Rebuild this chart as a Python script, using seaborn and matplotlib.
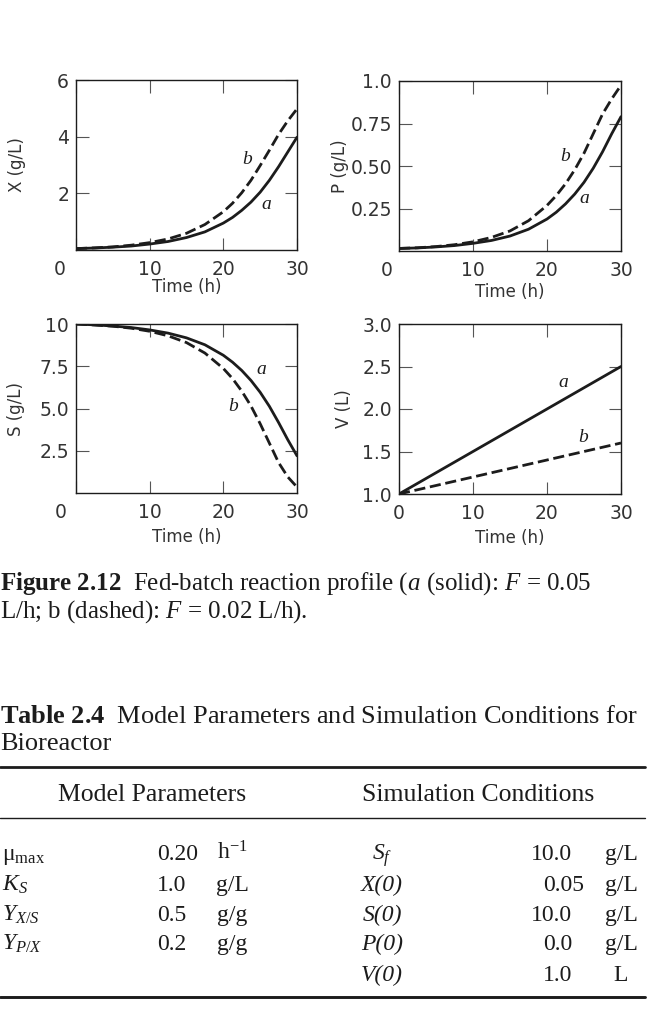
import matplotlib
matplotlib.use("Agg")
import matplotlib.pyplot as plt
import matplotlib.transforms as mtransforms
from matplotlib.lines import Line2D
import pandas as pd
import seaborn as sns

# values (time in h)
time_h = [0, 2.5, 5, 7.5, 10, 12.5, 15, 17.5, 20, 21.25, 22.5, 23.75, 25, 26.25, 27.5, 28.75, 30]

X_a = [0.05, 0.07, 0.10, 0.14, 0.21, 0.30, 0.44, 0.64, 0.95, 1.15, 1.40, 1.69, 2.04, 2.46, 2.94, 3.46, 3.98]
X_b = [0.05, 0.075, 0.11, 0.17, 0.26, 0.39, 0.59, 0.90, 1.35, 1.65, 2.02, 2.46, 2.98, 3.52, 4.08, 4.56, 4.98]

P_a = [0.015, 0.018, 0.024, 0.032, 0.045, 0.062, 0.088, 0.128, 0.188, 0.228, 0.277, 0.335, 0.404, 0.487, 0.583, 0.690, 0.790]
P_b = [0.015, 0.019, 0.026, 0.037, 0.054, 0.080, 0.118, 0.178, 0.268, 0.326, 0.395, 0.478, 0.575, 0.690, 0.805, 0.895, 0.975]

S_a = [10.0, 9.95, 9.88, 9.79, 9.65, 9.46, 9.18, 8.77, 8.15, 7.74, 7.25, 6.66, 5.96, 5.13, 4.17, 3.15, 2.2]
S_b = [10.0, 9.94, 9.87, 9.75, 9.57, 9.30, 8.90, 8.28, 7.37, 6.77, 6.03, 5.15, 4.10, 2.95, 1.80, 0.95, 0.35]

V_time_h = [0, 10, 20, 30]
V_a = [1.0, 1.5, 2.0, 2.5]
V_b = [1.0, 1.2, 1.4, 1.6]

x_ticks = [0, 10, 20, 30]
x_ticklabels = ["0", "10", "20", "30"]

X_ticks, X_ticklabels = [2, 4, 6], ["2", "4", "6"]
P_ticks, P_ticklabels = [0.25, 0.5, 0.75, 1.0], ["0.25", "0.50", "0.75", "1.0"]
S_ticks, S_ticklabels = [2.5, 5, 7.5, 10], ["2.5", "5.0", "7.5", "10"]
V_ticks, V_ticklabels = [1.0, 1.5, 2.0, 2.5, 3.0], ["1.0", "1.5", "2.0", "2.5", "3.0"]

caption_1 = r"$\mathbf{Figure\ 2.12}$  Fed-batch reaction profile ($a$ (solid): $F$ = 0.05"
caption_2 = r"L/h; b (dashed): $F$ = 0.02 L/h)."
table_title_1 = r"$\mathbf{Table\ 2.4}$  Model Parameters and Simulation Conditions for"
table_title_2 = "Bioreactor"
table_headers = ["Model Parameters", "Simulation Conditions"]

param_symbols = [r"$\mathrm{\mu}_{\mathrm{max}}$", r"$K_S$", r"$Y_{X/S}$", r"$Y_{P/X}$"]
param_values = ["0.20", "1.0", "0.5", "0.2"]
param_units = [r"h$^{-1}$", "g/L", "g/g", "g/g"]

cond_symbols = [r"$S_f$", "X(0)", "S(0)", "P(0)", "V(0)"]
cond_values = ["10.0", "0.05", "10.0", "0.0", "1.0"]
cond_units = ["g/L", "g/L", "g/L", "g/L", "L"]

W, H = 662, 1010
INK = "#1c1c1c"
GREY = "#333333"
SERIF = "Liberation Serif"


def fx(px):
    return px / W


def fy(py):
    return 1 - py / H


def long_frame(t, a, b):
    return pd.DataFrame({
        "time": list(t) * 2,
        "value": list(a) + list(b),
        "case": ["a"] * len(a) + ["b"] * len(b),
    })


sns.set_style("ticks")
plt.rcParams["font.family"] = ["DejaVu Sans"]
plt.rcParams["mathtext.fontset"] = "custom"
plt.rcParams["mathtext.rm"] = SERIF
plt.rcParams["mathtext.it"] = SERIF + ":italic"
plt.rcParams["mathtext.bf"] = SERIF + ":bold"

fig = plt.figure(figsize=(W / 100, H / 100), dpi=100)

panels = [
    dict(box=(76, 80, 297, 250), df=long_frame(time_h, X_a, X_b), ylim=(0, 6),
         yticks=X_ticks, yticklabels=X_ticklabels, ylabel="X (g/L)",
         ylabel_x=17, xlabel_y=287, zero_shift=-16,
         tags=[("b", 23.2, 3.2), ("a", 25.9, 1.6)]),
    dict(box=(399, 81, 621, 251), df=long_frame(time_h, P_a, P_b), ylim=(0, 1),
         yticks=P_ticks, yticklabels=P_ticklabels, ylabel="P (g/L)",
         ylabel_x=340, xlabel_y=292, zero_shift=-12,
         tags=[("b", 22.4, 0.555), ("a", 25.1, 0.31)]),
    dict(box=(76, 324, 297, 493), df=long_frame(time_h, S_a, S_b), ylim=(0, 10),
         yticks=S_ticks, yticklabels=S_ticklabels, ylabel="S (g/L)",
         ylabel_x=16, xlabel_y=537, zero_shift=-15,
         tags=[("a", 25.2, 7.3), ("b", 21.4, 5.1)]),
    dict(box=(399, 324, 621, 494), df=long_frame(V_time_h, V_a, V_b), ylim=(1, 3),
         yticks=V_ticks, yticklabels=V_ticklabels, ylabel="V (L)",
         ylabel_x=344, xlabel_y=538, zero_shift=0,
         tags=[("a", 22.2, 2.31), ("b", 24.9, 1.67)]),
]

for p in panels:
    left, top, right, bottom = p["box"]
    ax = fig.add_axes([fx(left), fy(bottom), (right - left) / W, (bottom - top) / H])
    sns.lineplot(data=p["df"], x="time", y="value", hue="case", style="case",
                 palette={"a": INK, "b": INK}, dashes={"a": "", "b": (4, 1.7)},
                 linewidth=2.0, legend=False, errorbar=None, ax=ax)
    ax.set_xlim(0, 30)
    ax.set_ylim(*p["ylim"])
    ax.set_xticks(x_ticks)
    ax.set_xticklabels(x_ticklabels)
    ax.set_yticks(p["yticks"])
    ax.set_yticklabels(p["yticklabels"])
    ax.tick_params(direction="in", length=9, width=0.8, color="#555555",
                   top=True, right=True, labelsize=13.5, labelcolor=GREY, pad=5)
    ax.tick_params(axis="x", pad=7)
    for sp in ax.spines.values():
        sp.set_linewidth(1.0)
        sp.set_color(INK)

    # the origin "0" sits left of the corner in three of the panels
    if p["zero_shift"]:
        lab = ax.get_xticklabels()[0]
        lab.set_transform(lab.get_transform() + mtransforms.ScaledTranslation(
            p["zero_shift"] / 100, 0, fig.dpi_scale_trans))

    ax.set_xlabel("Time (h)", fontsize=12, color=GREY)
    ax.xaxis.set_label_coords(0.5, -(p["xlabel_y"] - bottom) / (bottom - top))
    ax.xaxis.label.set_va("center")
    ax.set_ylabel(p["ylabel"], fontsize=12, color=GREY)
    ax.yaxis.set_label_coords((p["ylabel_x"] - left) / (right - left), 0.5)
    ax.yaxis.label.set_va("center")

    for tag, tx, ty in p["tags"]:
        ax.text(tx, ty, tag, family=SERIF, style="italic", fontsize=14,
                color=INK, ha="center", va="center")

# caption
cap = dict(family=SERIF, fontsize=18, color=INK, va="baseline")
fig.text(fx(0), fy(590), caption_1, **cap)
fig.text(fx(0), fy(618), caption_2, **cap)

# table
ttl = dict(family=SERIF, fontsize=19, color=INK, va="baseline")
fig.text(fx(0), fy(723), table_title_1, **ttl)
fig.text(fx(0), fy(750), table_title_2, **ttl)

for y, lw in [(767, 2.0), (818, 1.0), (997, 2.1)]:
    fig.add_artist(Line2D([0, fx(645)], [fy(y), fy(y)], lw=lw, color=INK))

hdr = dict(family=SERIF, fontsize=18.5, color=INK, va="baseline", ha="center")
fig.text(fx(152), fy(801), table_headers[0], **hdr)
fig.text(fx(478), fy(801), table_headers[1], **hdr)

row_y = [860, 891, 921, 950, 981]
BODY_PT = 17
body = dict(family=SERIF, fontsize=BODY_PT, color=INK, va="baseline")
DIGIT_PX = 0.5 * BODY_PT * 100 / 72  # Times digits are half an em wide


def put_number(x_dec, y, s):
    # decimal-point alignment, keeping each number as one string
    whole = s.split(".")[0]
    fig.text(fx(x_dec - len(whole) * DIGIT_PX), fy(y), s, ha="left", **body)


for y, sym, val, unit in zip(row_y, param_symbols, param_values, param_units):
    fig.text(fx(2), fy(y), sym, ha="left", **body)
    put_number(169, y, val)
    fig.text(fx(232), fy(y), unit, ha="center", **body)

for y, sym, val, unit in zip(row_y, cond_symbols, cond_values, cond_units):
    fig.text(fx(382), fy(y), sym, ha="center", style="italic", **body)
    put_number(555, y, val)
    fig.text(fx(621), fy(y), unit, ha="center", **body)

fig.savefig("out.png", dpi=100)
